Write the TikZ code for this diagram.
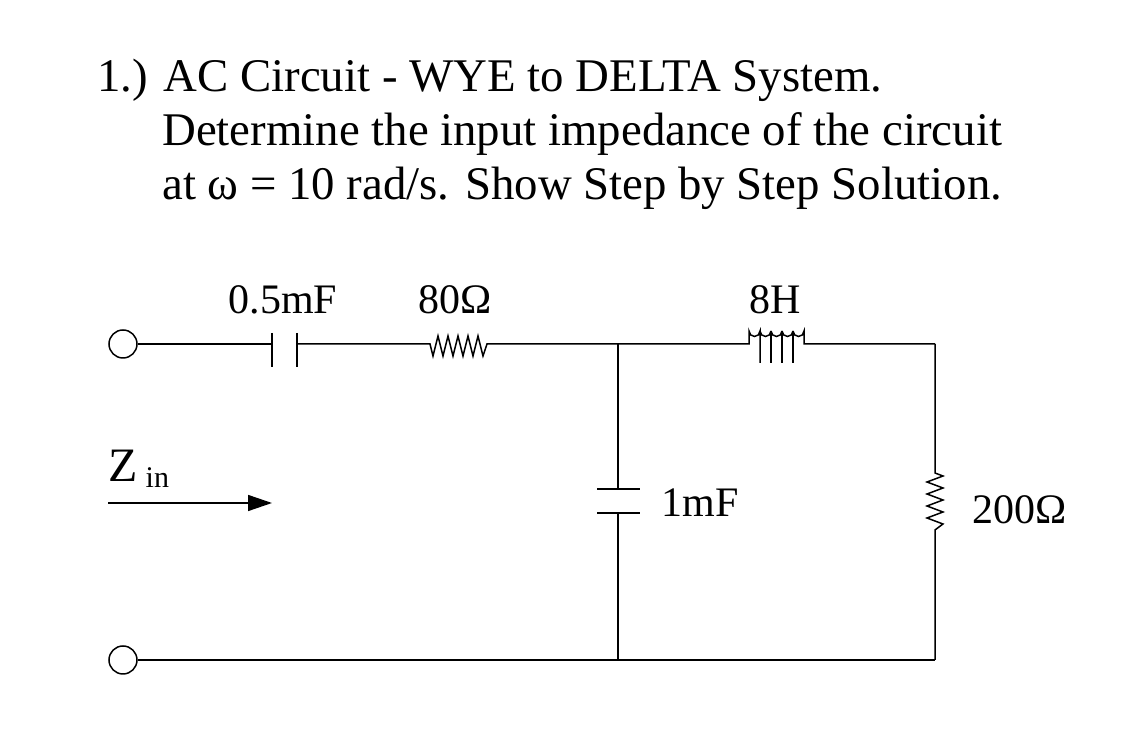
\documentclass[tikz,border=0pt]{standalone}
\usepackage{fontspec}
\setmainfont{Liberation Serif}
\usetikzlibrary{arrows.meta}
\begin{document}
\begin{tikzpicture}[x=0.5pt,y=-0.5pt,
  wire/.style={line width=0.75pt},
  lbl/.style={font=\fontsize{21}{24}\selectfont, inner sep=0pt},
  ttl/.style={font=\fontsize{23.4}{27}\selectfont, inner sep=0pt, anchor=base west}]
\useasboundingbox (0,0) rectangle (1148,742);
% title
\node[ttl] (t1) at (97,92) {1.) AC Circuit - WYE to DELTA System.};
\node[ttl] (t2) at (162,146) {Determine the input impedance of the circuit};
\node[ttl] (t3) at (162,200) {at ω = 10 rad/s. Show Step by Step Solution.};
% terminals
\node[draw,circle,minimum size=14pt,inner sep=0pt,wire] (a) at (123,344) {};
\node[draw,circle,minimum size=14pt,inner sep=0pt,wire] (b) at (123,660) {};
\coordinate (j) at (618,344);
\coordinate (jb) at (618,660);
\coordinate (r) at (935,344);
\coordinate (rb) at (935,660);
% series capacitor
\coordinate (c1a) at (272,344);
\coordinate (c1b) at (297,344);
\draw[wire] (a) -- (c1a);
\draw[wire] (272,333) -- (272,367) (297,333) -- (297,367);
% resistor 80
\coordinate (r1a) at (430,344);
\coordinate (r1b) at (487,344);
\draw[wire] (c1b) -- (r1a) -- (433,356) -- (438,336) -- (443,356) -- (448,336) -- (453,356) -- (458,336) -- (463,356) -- (468,336) -- (473,356) -- (478,336) -- (483,356) -- (r1b) -- (j);
% inductor
\coordinate (l1a) at (749,344);
\coordinate (l1b) at (804,344);
\draw[wire] (j) -- (l1a) -- (749,331)
  arc[start angle=180,end angle=0,radius=5.5] -- (760,363)
  (760,331) arc[start angle=180,end angle=0,radius=5.5]
  (771,331) arc[start angle=180,end angle=0,radius=5.5]
  (782,331) arc[start angle=180,end angle=0,radius=5.5]
  (793,331) arc[start angle=180,end angle=0,radius=5.5] -- (l1b) -- (r);
\draw[wire] (771,331) -- (771,363) (782,331) -- (782,363) (793,331) -- (793,363);
% 1mF shunt capacitor
\draw[wire] (j) -- (618,489) (597,489) -- (640,489) (597,513) -- (640,513) (618,513) -- (jb);
% 200 resistor
\draw[wire] (r) -- (935,473) -- (943,476) -- (927,482) -- (943,488) -- (927,494) -- (943,500) -- (927,506) -- (943,512) -- (927,518) -- (943,524) -- (935,530) -- (rb);
% bottom
\draw[wire] (b) -- (jb) -- (rb);
% Zin arrow
\coordinate (z1) at (108,503);
\coordinate (z2) at (272,503);
\draw[wire,-{Triangle[length=12pt,width=8pt]}] (z1) -- (z2);
\node[font=\fontsize{24}{26}\selectfont,anchor=base west,inner sep=0pt] (zin) at (108,482) {Z\,\raisebox{-3pt}{\fontsize{15}{16}\selectfont in}};
% labels
\node[lbl] (l05) at (283,300) {0.5mF};
\node[lbl] (l80) at (455,300) {80Ω};
\node[lbl] (l8h) at (775,300) {8H};
\node[lbl] (l1m) at (700,503) {1mF};
\node[lbl] (l200) at (1020,510) {200Ω};
\end{tikzpicture}
\end{document}
